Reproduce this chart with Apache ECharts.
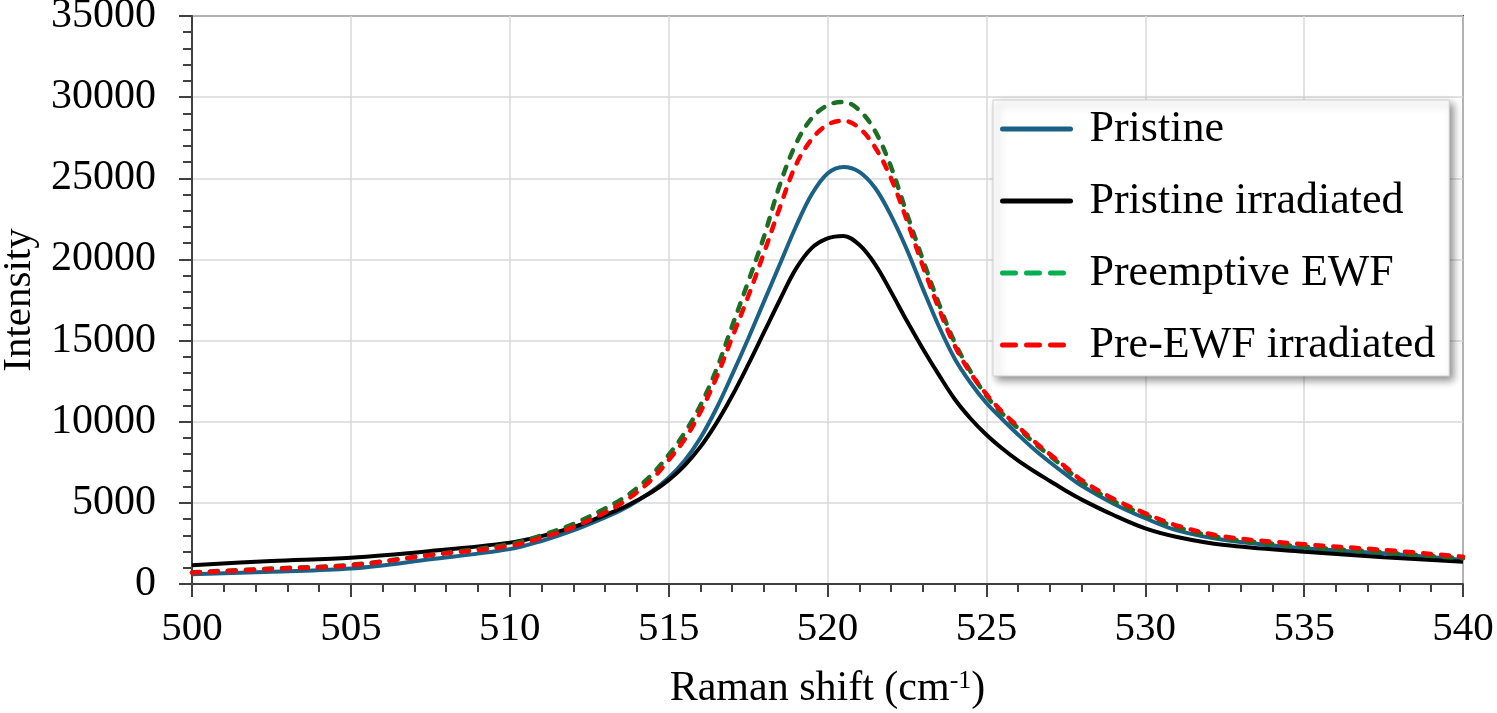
<!DOCTYPE html>
<html style="height: 100%">
<head>
    <meta charset="utf-8">
</head>
<body style="height: 100%; margin: 0; background: #fff">
    <div id="container" style="height: 100%"></div>
    <script type="text/javascript" src="https://cdn.jsdelivr.net/npm/echarts@6/dist/echarts.min.js"></script>
    <script type="text/javascript">
        // Raman shift (cm-1)
        var shift = [500, 502.5, 505, 507.5, 510, 511, 512,
            513, 513.5, 514, 514.5, 515, 515.5, 516, 516.5, 517, 517.5, 518, 518.5, 519, 519.5,
            520, 520.5, 521, 521.5, 522, 522.5, 523, 523.5, 524, 524.5, 525, 525.5, 526, 526.5, 527, 527.5, 528,
            529, 530, 531, 532.5, 535, 537.5, 540];

        var pristine = [600, 760, 950, 1520, 2150, 2650, 3300,
            4100, 4550, 5100, 5750, 6550, 7600, 9000, 10800, 12900, 15100, 17400, 19700, 22000, 24000,
            25300, 25700, 25400, 24400, 22700, 20600, 18200, 15900, 13900, 12400, 11150, 10150, 9200, 8300, 7500, 6750, 6050,
            4950, 4050, 3300, 2710, 2200, 1890, 1480];

        var pristineIrr = [1150, 1420, 1620, 2030, 2550, 2950, 3500,
            4250, 4650, 5150, 5700, 6400, 7300, 8450, 9900, 11600, 13500, 15500, 17500, 19400, 20700,
            21300, 21450, 20900, 19700, 18000, 16200, 14500, 12900, 11400, 10200, 9200, 8350, 7600, 6950, 6350, 5750, 5200,
            4250, 3430, 2900, 2400, 1990, 1650, 1375];

        var preemptive = [720, 950, 1180, 1800, 2450, 3000, 3700,
            4650, 5200, 5900, 6800, 7950, 9300, 11000, 13200, 15900, 18600, 21400, 24600, 27100, 28700,
            29500, 29700, 29200, 27900, 25700, 22800, 20000, 17300, 14900, 13100, 11600, 10500, 9600, 8700, 7900, 7100, 6300,
            5100, 4250, 3500, 2820, 2300, 1950, 1580];

        var preIrr = [700, 925, 1150, 1780, 2350, 2850, 3500,
            4400, 4950, 5650, 6500, 7640, 8900, 10600, 12700, 15200, 17700, 20400, 23200, 25800, 27400,
            28300, 28550, 28100, 26900, 25000, 22400, 19600, 17000, 14700, 13000, 11700, 10600, 9700, 8800, 8000, 7200, 6400,
            5250, 4360, 3600, 2920, 2450, 2100, 1680];

        var names = ['Pristine', 'Pristine irradiated', 'Preemptive EWF', 'Pre-EWF irradiated'];

        function pairs(ys) {
            var res = [];
            for (var i = 0; i < shift.length; i++) {
                res.push([shift[i], ys[i]]);
            }
            return res;
        }

        var font = '"Liberation Serif", "Times New Roman", serif';
        var myChart = echarts.init(document.getElementById('container'));

        var option = {
            animation: false,
            textStyle: { fontFamily: font },
            grid: {
                left: 192, right: 34, top: 16, bottom: 129,
                outerBoundsMode: 'none',
                containLabel: false,
                show: true, borderColor: '#404040', borderWidth: 2
            },
            legend: {
                left: 993, top: 100,
                orient: 'vertical',
                backgroundColor: '#fff',
                borderColor: '#d0d0d0', borderWidth: 1,
                shadowBlur: 8, shadowColor: 'rgba(0,0,0,0.45)', shadowOffsetX: 4, shadowOffsetY: 4,
                padding: [5, 14, 7, 7],
                itemWidth: 68, itemHeight: 14, itemGap: 24,
                itemStyle: { opacity: 0 },
                lineStyle: { width: 5, cap: 'round' },
                textStyle: { fontFamily: font, fontSize: 44, color: '#000', lineHeight: 48, padding: [0, 0, 0, 14] },
                data: [
                    { name: names[0] },
                    { name: names[1] },
                    { name: names[2], lineStyle: { color: '#00b050', type: [13, 11] } },
                    { name: names[3], lineStyle: { type: [13, 11] } }
                ]
            },
            xAxis: {
                type: 'value', min: 500, max: 540, interval: 5,
                name: '{a|Raman shift (cm}{s|-1}{a|)}',
                nameLocation: 'middle', nameGap: 84,
                nameTextStyle: {
                    rich: {
                        a: { fontFamily: font, fontSize: 42, color: '#000' },
                        s: { fontFamily: font, fontSize: 26, color: '#000', verticalAlign: 'top', padding: [0, 0, 13, 0] }
                    }
                },
                axisLine: { lineStyle: { color: '#404040', width: 2 } },
                axisTick: { length: 13, lineStyle: { color: '#404040', width: 2 } },
                minorTick: { show: true, splitNumber: 5, length: 8, lineStyle: { color: '#404040', width: 2 } },
                axisLabel: { fontFamily: font, fontSize: 41, color: '#000', margin: 25 },
                splitLine: { lineStyle: { color: '#d9d9d9', width: 1.5 } }
            },
            yAxis: {
                type: 'value', min: 0, max: 35000, interval: 5000,
                name: 'Intensity',
                nameLocation: 'middle', nameGap: 146,
                nameTextStyle: { fontFamily: font, fontSize: 41, color: '#000' },
                axisLine: { show: true, lineStyle: { color: '#404040', width: 2 } },
                axisTick: { show: true, length: 13, lineStyle: { color: '#404040', width: 2 } },
                minorTick: { show: true, splitNumber: 5, length: 9, lineStyle: { color: '#404040', width: 2 } },
                axisLabel: {
                    fontFamily: font, fontSize: 42, color: '#000', margin: 36,
                    formatter: function (v) { return String(v); }
                },
                splitLine: { lineStyle: { color: '#d9d9d9', width: 1.5 } }
            },
            series: [
                {
                    name: names[0], type: 'line', data: pairs(pristine),
                    symbol: 'none', smooth: 0.35,
                    lineStyle: { color: '#1b6185', width: 4 }, itemStyle: { color: '#1b6185' }
                },
                {
                    name: names[1], type: 'line', data: pairs(pristineIrr),
                    symbol: 'none', smooth: 0.35,
                    lineStyle: { color: '#000', width: 4 }, itemStyle: { color: '#000' }
                },
                {
                    name: names[2], type: 'line', data: pairs(preemptive),
                    symbol: 'none', smooth: 0.35,
                    lineStyle: { color: '#1d6e24', width: 4.5, type: [8, 10], cap: 'round' }, itemStyle: { color: '#1d6e24' }
                },
                {
                    name: names[3], type: 'line', data: pairs(preIrr),
                    symbol: 'none', smooth: 0.35,
                    lineStyle: { color: '#ff0000', width: 4.5, type: [8, 10], cap: 'round' }, itemStyle: { color: '#ff0000' }
                }
            ]
        };

        myChart.setOption(option);
    </script>
</body>
</html>
